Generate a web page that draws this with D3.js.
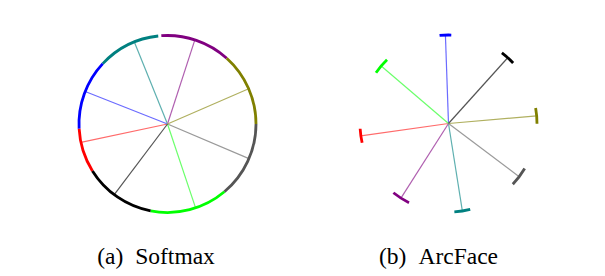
<!DOCTYPE html>
<html>
<head>
<meta charset="utf-8">
<script src="https://cdn.jsdelivr.net/npm/d3@7"></script>
<style>
  body { margin: 0; background: #fff; }
  svg { display: block; }
</style>
</head>
<body>
<div id="chart"></div>
<script>
// SVG size
var svgWidth = 605;
var svgHeight = 276;

// Classes (one colour each)
var classes = ["red", "blue", "teal", "purple", "olive", "gray", "green", "black"];

// Softmax: class-centre direction (degrees, counter-clockwise from east)
var softmaxCenter = [192, 158.5, 112, 72, 23.5, -23, -71.5, -127];
// Softmax: angular span covered by each class's features on the circle
var softmaxStart = [183, 137, 96, 48, 0, -50, -101, -148];
var softmaxEnd = [212, 183, 137, 94, 48, 0, -50, -101];

// ArcFace: class-centre direction
var arcfaceCenter = [188, 92, -81, -122.5, 5, -37, 139.5, 48];
// ArcFace: compact feature spans around each centre
var arcfaceStart = [183.4, 88.2, -86.2, -128.5, -0.1, -43.4, 134, 43.1];
var arcfaceEnd = [192.6, 95.8, -75.8, -116.5, 10.1, -30.6, 145, 52.9];

// Captions
var captions = [{ tag: "(a)", name: "Softmax" }, { tag: "(b)", name: "ArcFace" }];

var arcColor = {
  red: "#ff0000", blue: "#0000ff", teal: "#008080", purple: "#800080",
  olive: "#808000", gray: "#555555", green: "#00ff00", black: "#000000"
};
var lineColor = {
  red: "#ff6b6b", blue: "#6b6bff", teal: "#5fb0b0", purple: "#b060b0",
  olive: "#b0b060", gray: "#9a9a9a", green: "#6bff6b", black: "#555555"
};

var radius = 88.5;

var svg = d3.select("#chart")
  .append("svg")
  .attr("width", svgWidth)
  .attr("height", svgHeight);

// degrees (math convention) -> d3 radial angle (clockwise from 12 o'clock)
var angleScale = d3.scaleLinear()
  .domain([0, 360])
  .range([Math.PI / 2, Math.PI / 2 - 2 * Math.PI]);

// normalised feature length -> pixels
var rScale = d3.scaleLinear()
  .domain([0, 1])
  .range([0, radius]);

function drawPanel(cx, cy, centers, starts, ends) {
  var g = svg.append("g")
    .attr("transform", `translate(${cx}, ${cy})`);

  var data = classes.map(function(c, i) {
    return { cls: c, center: centers[i], start: starts[i], end: ends[i] };
  });

  // centre lines
  g.selectAll("line.center")
    .data(data)
    .enter()
    .append("line")
    .attr("class", "center")
    .attr("x1", 0)
    .attr("y1", 0)
    .attr("x2", d => d3.pointRadial(angleScale(d.center), rScale(1))[0])
    .attr("y2", d => d3.pointRadial(angleScale(d.center), rScale(1))[1])
    .attr("stroke", d => lineColor[d.cls])
    .attr("stroke-width", 1.2);

  // feature arcs
  var arc = d3.arc()
    .innerRadius(rScale(1) - 1.4)
    .outerRadius(rScale(1) + 1.4)
    .startAngle(d => angleScale(d.start))
    .endAngle(d => angleScale(d.end));

  g.selectAll("path.feat")
    .data(data)
    .enter()
    .append("path")
    .attr("class", "feat")
    .attr("d", arc)
    .attr("fill", d => arcColor[d.cls]);
}

drawPanel(167.5, 124, softmaxCenter, softmaxStart, softmaxEnd);
drawPanel(448.5, 123.5, arcfaceCenter, arcfaceStart, arcfaceEnd);

// captions
var capX = [156, 438.5];
svg.selectAll("text.caption")
  .data(captions)
  .enter()
  .append("text")
  .attr("class", "caption")
  .attr("x", (d, i) => capX[i])
  .attr("y", 264)
  .attr("text-anchor", "middle")
  .style("font-family", "'Liberation Serif', 'Times New Roman', serif")
  .style("font-size", "23.5px")
  .attr("fill", "#000")
  .each(function(d) {
    var t = d3.select(this);
    t.append("tspan").text(d.tag);
    t.append("tspan").attr("dx", 12).text(d.name);
  });
</script>
</body>
</html>
